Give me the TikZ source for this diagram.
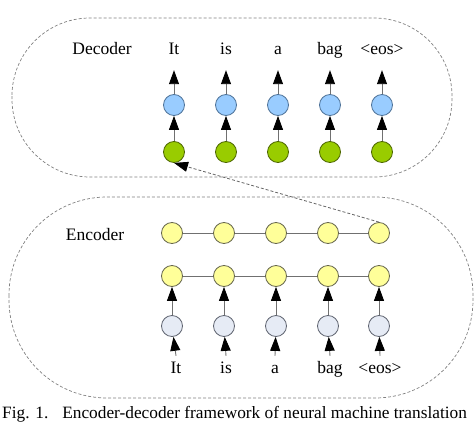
\documentclass[tikz,border=0pt]{standalone}
\usepackage{fontspec}
\setmainfont{Liberation Serif}
\usetikzlibrary{arrows.meta}
\definecolor{decblue}{HTML}{99CCFF}
\definecolor{decblueb}{HTML}{4F7399}
\definecolor{decgreen}{HTML}{99CC00}
\definecolor{decgreenb}{HTML}{4D6600}
\definecolor{encyel}{HTML}{FFFF99}
\definecolor{encyelb}{HTML}{66664D}
\definecolor{encgrey}{HTML}{E6EBF5}
\definecolor{encgreyb}{HTML}{5F6470}
\definecolor{linegray}{HTML}{707070}
\tikzset{
  cell/.style={circle, minimum size=21pt, inner sep=0pt, line width=0.8pt},
  bluecell/.style={cell, draw=decblueb, fill=decblue},
  greencell/.style={cell, draw=decgreenb, fill=decgreen},
  yelcell/.style={cell, draw=encyelb, fill=encyel},
  greycell/.style={cell, draw=encgreyb, fill=encgrey},
  word/.style={font=\fontsize{17.5}{20}\selectfont, anchor=base, inner xsep=1pt, inner ysep=5pt, text height=12pt, text depth=3pt},
  arr/.style={draw=linegray, line width=0.9pt, -{Triangle[width=10pt,length=14pt,color=black]}},
  link/.style={draw=linegray, line width=0.9pt},
  frame/.style={draw=gray, dash pattern=on 3pt off 2pt, line width=0.7pt},
  dasharr/.style={draw=gray!80!black, dash pattern=on 3pt off 2pt, line width=0.8pt, -{Triangle[width=10pt,length=14pt,color=black]}}
}
\begin{document}
\begin{tikzpicture}[x=1pt,y=-1pt]
\useasboundingbox (0,0) rectangle (474,428);
% frames
\draw[frame, rounded corners=78pt] (12,18) rectangle (452,177);
\draw[frame, rounded corners=98pt] (9,197) rectangle (473,398);
% decoder
\node[word] (declab) at (102,55) {Decoder};
\foreach \i/\x/\w in {1/174/It, 2/226/is, 3/278/a, 4/330/bag, 5/382/{<eos>}} {
  \node[word] (dw\i) at (\x,55) {\w};
  \node[bluecell] (b\i) at (\x,105) {};
  \node[greencell] (g\i) at (\x,152) {};
  \draw[arr] (g\i) -- (b\i);
  \draw[arr, shorten >=7pt] (b\i) -- (dw\i);
}
% encoder
\node[word] (enclab) at (95,240) {Encoder};
\foreach \i/\x/\w/\wx in {1/172/It/176, 2/224/is/226, 3/276/a/275, 4/328/bag/330, 5/379/{<eos>}/380} {
  \node[yelcell] (t\i) at (\x,233) {};
  \node[yelcell] (s\i) at (\x,276) {};
  \node[greycell] (q\i) at (\x,326) {};
  \node[word] (ew\i) at (\wx,373) {\w};
  \draw[arr] (q\i) -- (s\i);
  \draw[arr] (ew\i.north) -- (q\i);
}
\foreach \i/\j in {1/2, 2/3, 3/4, 4/5} {
  \draw[link] (t\i) -- (t\j);
  \draw[link] (s\i) -- (s\j);
}
% context arrow
\draw[dasharr] (t5.north) -- (g1.south);
% caption
\node[font=\fontsize{17.3}{20}\selectfont, anchor=base west, inner sep=0pt] (cap) at (2,418) {Fig. 1.\hspace{14pt}Encoder-decoder framework of neural machine translation};
\end{tikzpicture}
\end{document}
